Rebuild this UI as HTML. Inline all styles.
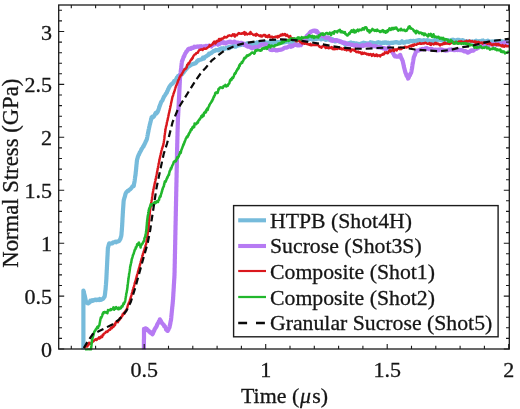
<!DOCTYPE html>
<html><head><meta charset="utf-8"><title>Normal Stress vs Time</title>
<style>
html,body{margin:0;padding:0;background:#fff;}
body{width:520px;height:409px;overflow:hidden;}
svg{display:block;}
text{font-family:"Liberation Serif","DejaVu Serif",serif;fill:#161616;stroke:#161616;stroke-width:0.3px;}
.tk{font-size:21.2px;}
.lg{font-size:21.75px;}
.lb{font-size:22.7px;}
</style></head><body>
<svg width="520" height="409" viewBox="0 0 520 409">
<rect x="0" y="0" width="520" height="409" fill="#ffffff"/>
<defs><clipPath id="cp"><rect x="58.7" y="2.0" width="451.2" height="348.4"/></clipPath></defs>

<g clip-path="url(#cp)" fill="none" stroke-linejoin="round" stroke-linecap="butt">
<polyline points="83.4,349.5 83.4,348.8 83.4,348.1 83.4,347.4 83.4,346.7 83.4,346.0 83.4,345.3 83.4,344.6 83.4,343.9 83.4,343.2 83.4,342.5 83.4,341.8 83.4,341.1 83.4,340.4 83.4,339.7 83.4,339.0 83.4,338.3 83.4,337.6 83.4,336.9 83.4,336.2 83.4,335.5 83.4,334.8 83.4,334.1 83.4,333.4 83.4,332.7 83.4,332.0 83.4,331.3 83.4,330.6 83.4,329.9 83.4,329.2 83.4,328.5 83.4,327.8 83.4,327.1 83.4,326.4 83.4,325.7 83.4,325.0 83.4,324.3 83.4,323.6 83.4,322.9 83.4,322.2 83.4,321.5 83.4,320.8 83.4,320.1 83.4,319.4 83.4,318.6 83.4,317.9 83.4,317.2 83.4,316.5 83.4,315.8 83.4,315.1 83.4,314.4 83.4,313.7 83.4,313.0 83.4,312.3 83.4,311.6 83.4,310.9 83.4,310.2 83.4,309.5 83.4,308.8 83.4,308.1 83.4,307.4 83.4,306.7 83.4,306.0 83.4,305.3 83.4,304.6 83.4,303.9 83.4,303.2 83.4,302.5 83.4,301.8 83.4,301.1 83.4,300.4 83.4,299.7 83.4,299.0 83.4,298.3 83.4,297.6 83.4,296.9 83.4,296.2 83.4,295.5 83.4,294.8 83.4,294.1 83.4,293.4 83.4,292.7 83.4,292.0 83.4,291.3 83.4,290.6 83.6,291.1 83.7,291.6 83.9,292.4 84.1,293.3 84.3,294.2 84.5,294.7 84.6,295.4 84.8,295.9 84.9,296.5 85.0,297.2 85.2,297.9 85.3,298.6 85.5,299.2 85.6,299.9 85.7,300.6 86.0,301.4 86.4,302.0 86.8,302.7 87.2,303.1 87.6,303.2 88.1,303.4 88.7,302.8 89.3,302.7 89.8,302.1 90.4,300.7 90.9,301.0 91.6,301.1 92.3,300.1 93.0,300.9 93.7,300.4 94.3,300.0 95.0,299.7 95.7,299.7 96.4,300.2 97.1,299.7 97.8,299.8 98.5,299.7 99.2,300.0 99.8,299.0 100.5,299.9 101.2,299.7 101.9,299.2 102.6,299.2 103.2,298.7 103.7,297.8 104.2,297.2 104.6,296.7 104.7,296.2 104.8,295.5 104.9,294.8 105.0,294.2 105.1,293.3 105.2,292.6 105.2,292.0 105.3,291.3 105.4,290.6 105.5,289.9 105.6,289.2 105.6,288.6 105.7,287.9 105.7,287.2 105.8,286.5 105.8,285.7 105.9,285.1 106.0,284.4 106.0,283.5 106.1,282.9 106.1,282.2 106.2,281.6 106.2,280.9 106.3,280.2 106.3,279.4 106.4,278.7 106.4,278.0 106.4,277.3 106.5,276.6 106.5,275.9 106.5,275.2 106.6,274.5 106.6,273.8 106.6,273.1 106.7,272.5 106.7,271.8 106.7,271.1 106.8,270.3 106.8,269.6 106.9,268.9 106.9,268.3 106.9,267.6 107.0,266.8 107.0,266.1 107.0,265.4 107.1,264.7 107.1,264.0 107.1,263.3 107.2,262.6 107.2,261.9 107.2,261.2 107.3,260.6 107.3,259.8 107.3,259.1 107.4,258.4 107.4,257.8 107.4,257.0 107.5,256.4 107.5,255.6 107.6,255.0 107.6,254.3 107.6,253.6 107.7,252.8 107.7,252.1 107.7,251.4 107.8,250.7 107.8,250.1 107.8,249.3 107.9,248.6 107.9,247.9 108.1,247.3 108.3,246.8 108.5,245.7 108.7,245.0 109.2,243.3 109.8,243.6 110.5,243.7 111.1,243.7 111.7,243.2 112.4,243.4 113.0,242.5 113.6,242.3 114.3,242.2 114.9,242.0 115.5,241.7 116.2,242.2 116.8,241.6 117.4,241.5 118.1,241.5 118.7,241.1 119.3,240.8 119.9,239.6 120.2,239.2 120.5,238.6 120.7,237.7 120.9,237.0 121.2,236.3 121.3,235.6 121.4,234.9 121.5,234.2 121.5,233.6 121.6,232.9 121.6,232.2 121.7,231.4 121.8,230.7 121.8,229.9 121.9,229.3 121.9,228.6 122.0,228.0 122.0,227.2 122.1,226.5 122.1,225.8 122.2,225.1 122.2,224.4 122.2,223.7 122.3,223.1 122.3,222.3 122.4,221.6 122.4,220.9 122.4,220.2 122.5,219.5 122.5,218.8 122.5,218.1 122.6,217.5 122.6,216.8 122.7,216.1 122.7,215.4 122.7,214.7 122.8,213.9 122.8,213.2 122.9,212.5 122.9,211.9 122.9,211.2 123.0,210.5 123.0,209.8 123.1,209.1 123.1,208.4 123.2,207.7 123.2,207.0 123.3,206.3 123.3,205.7 123.4,204.9 123.4,204.2 123.5,203.4 123.5,202.7 123.6,202.0 123.6,201.4 123.7,200.7 123.8,199.9 124.0,199.5 124.2,198.6 124.4,197.9 124.6,197.3 124.8,196.8 125.0,196.1 125.2,195.1 125.4,194.4 125.6,193.7 125.8,193.3 126.0,192.9 126.5,191.9 127.0,191.7 127.6,191.1 128.1,190.6 128.6,190.7 129.2,189.9 129.7,189.6 130.2,189.4 130.8,188.7 131.3,188.1 131.9,187.4 132.4,186.4 132.9,186.4 133.5,186.3 133.8,185.7 133.9,185.1 134.0,184.2 134.1,183.6 134.2,183.1 134.4,182.4 134.5,181.7 134.6,181.1 134.7,180.4 134.8,179.6 134.9,179.0 135.0,178.0 135.1,177.3 135.2,176.6 135.3,175.9 135.5,175.2 135.5,174.6 135.6,173.9 135.7,173.3 135.7,172.5 135.8,171.8 135.9,171.1 136.0,170.5 136.0,169.8 136.1,169.1 136.2,168.4 136.2,167.6 136.3,166.9 136.4,166.2 136.4,165.5 136.5,164.7 136.6,163.9 136.7,163.2 136.7,162.5 136.8,161.9 136.9,161.3 136.9,160.6 137.0,160.1 137.2,159.1 137.4,158.7 137.6,157.9 137.8,157.2 138.0,156.5 138.2,156.0 138.4,155.5 138.7,154.8 139.0,154.5 139.4,153.4 139.7,152.8 140.1,151.9 140.4,151.5 140.7,150.9 141.1,150.3 141.4,149.3 141.7,149.0 142.1,148.2 142.5,147.7 142.8,147.1 143.2,146.5 143.6,146.3 143.9,145.3 144.3,144.6 144.6,144.1 144.9,143.4 145.1,143.1 145.4,142.4 145.7,141.7 145.9,141.2 146.2,140.7 146.5,140.2 146.7,139.5 147.0,138.7 147.1,137.7 147.3,136.9 147.4,136.3 147.5,135.6 147.7,134.9 147.8,134.3 147.9,133.6 148.1,132.9 148.2,132.1 148.4,131.5 148.5,130.7 148.6,129.9 148.8,129.3 148.9,128.8 149.0,128.1 149.2,127.5 149.3,126.7 149.5,125.9 149.6,125.3 149.8,124.7 150.0,124.1 150.1,123.5 150.3,122.7 150.5,122.1 150.6,121.4 150.8,120.8 151.0,120.0 151.1,119.1 151.3,118.3 151.5,117.4 151.8,117.3 152.3,116.7 152.9,117.3 153.4,116.9 154.0,116.4 154.5,115.4 155.1,114.2 155.6,112.9 156.2,112.5 156.7,113.2 157.3,112.5 157.6,112.1 157.8,111.5 158.0,111.0 158.2,110.3 158.5,109.9 158.7,109.0 158.9,108.5 159.1,107.8 159.3,106.7 159.6,106.5 159.8,105.7 160.0,105.3 160.2,104.7 160.5,104.0 160.7,103.3 160.9,102.6 161.2,102.1 161.6,101.5 161.9,100.9 162.3,100.7 162.6,100.0 163.0,98.8 163.4,98.2 163.7,97.3 164.1,96.5 164.4,96.2 164.8,95.6 165.1,95.2 165.5,94.6 165.8,93.7 166.1,93.4 166.5,93.0 166.8,92.7 167.1,91.7 167.4,91.2 167.8,90.3 168.1,89.2 168.4,89.0 168.8,87.8 169.1,87.3 169.4,86.9 169.7,86.3 170.1,85.7 170.5,85.3 170.9,84.8 171.4,84.2 171.9,84.0 172.4,83.5 172.8,83.3 173.3,82.5 173.8,82.2 174.2,81.0 174.7,80.6 175.2,80.8 175.7,79.9 176.1,79.6 176.6,78.3 177.1,77.2 177.6,76.9 178.1,76.0 178.6,76.7 179.1,76.0 179.6,75.0 180.1,74.7 180.6,74.7 181.1,74.7 181.6,74.5 182.1,74.2 182.6,73.6 183.2,72.8 183.7,72.3 184.2,71.6 184.7,70.2 185.2,70.3 185.7,69.3 186.2,68.4 186.7,68.6 187.2,67.2 187.7,66.4 188.3,66.8 188.8,66.0 189.4,66.2 189.9,65.4 190.5,65.4 191.1,64.5 191.7,64.5 192.3,64.4 192.9,64.1 193.5,63.9 194.1,63.5 194.7,63.4 195.2,63.4 195.8,63.0 196.4,62.4 197.0,61.3 197.6,60.9 198.2,60.2 198.8,60.5 199.4,59.8 200.0,59.8 200.6,59.7 201.2,59.4 201.8,59.2 202.3,58.9 202.9,57.7 203.5,57.8 204.1,58.5 204.7,57.1 205.3,56.7 205.9,56.7 206.5,56.2 207.1,55.7 207.7,55.2 208.3,55.1 209.0,53.7 209.6,54.0 210.2,53.6 210.8,53.1 211.5,52.9 212.1,52.2 212.7,51.9 213.3,51.3 214.0,50.8 214.6,51.0 215.3,50.6 215.9,49.9 216.6,50.1 217.3,49.9 217.9,50.4 218.6,50.2 219.3,50.1 219.9,48.8 220.6,48.8 221.3,48.3 221.9,48.5 222.6,48.9 223.3,48.3 224.0,49.1 224.7,48.7 225.3,48.3 226.0,48.2 226.7,47.9 227.4,48.3 228.0,47.8 228.7,47.1 229.4,48.3 230.1,47.2 230.8,46.9 231.5,47.0 232.2,46.4 232.8,46.0 233.5,46.0 234.2,46.1 234.9,46.7 235.6,46.7 236.3,46.4 237.0,45.9 237.6,45.6 238.3,45.2 239.0,45.3 239.7,45.1 240.4,45.1 241.1,44.9 241.8,44.4 242.5,44.2 243.2,44.2 243.9,44.9 244.6,44.7 245.3,44.7 246.0,43.9 246.7,43.4 247.4,43.4 248.1,43.7 248.8,44.7 249.5,44.5 250.2,44.7 250.9,45.0 251.6,44.6 252.3,44.3 253.0,44.5 253.7,43.9 254.4,43.4 255.1,43.7 255.8,43.2 256.5,42.6 257.2,42.3 257.9,43.0 258.6,43.1 259.3,43.1 260.0,43.1 260.7,43.3 261.4,43.7 262.1,43.7 262.8,43.5 263.5,43.0 264.2,42.6 264.9,42.0 265.6,42.4 266.3,43.3 267.0,42.8 267.7,42.6 268.4,42.7 269.1,42.3 269.8,42.8 270.5,42.7 271.2,42.7 271.9,42.9 272.6,42.5 273.3,42.9 274.0,41.9 274.7,41.4 275.4,41.7 276.1,41.5 276.8,42.2 277.5,42.1 278.2,42.1 278.9,42.2 279.6,42.0 280.3,41.9 281.0,41.7 281.7,42.4 282.4,42.7 283.1,42.4 283.8,42.5 284.5,42.1 285.2,42.0 285.9,42.2 286.6,41.4 287.3,41.7 288.0,41.4 288.7,42.0 289.4,42.3 290.1,43.1 290.7,43.5 291.4,42.8 292.1,42.4 292.8,42.0 293.5,41.6 294.1,41.4 294.8,41.3 295.5,41.2 296.2,40.0 296.9,39.5 297.5,39.9 298.2,39.5 298.9,40.1 299.6,39.8 300.3,40.3 301.0,40.5 301.7,39.7 302.4,39.3 303.1,39.1 303.8,39.3 304.4,39.2 305.1,39.3 305.8,39.5 306.5,39.5 307.2,38.8 307.9,39.0 308.6,39.5 309.3,38.8 310.0,38.9 310.7,38.5 311.4,38.7 312.1,39.4 312.8,38.9 313.5,39.3 314.2,38.8 314.9,39.0 315.6,39.1 316.3,39.1 317.0,38.5 317.7,38.6 318.4,38.7 319.1,38.6 319.8,38.4 320.5,38.8 321.2,39.4 321.9,39.1 322.6,38.8 323.3,38.3 324.0,38.8 324.7,39.4 325.4,39.9 326.1,39.8 326.8,39.5 327.5,39.2 328.2,39.3 328.9,39.2 329.6,39.8 330.3,39.6 331.0,39.4 331.7,39.0 332.4,39.2 333.0,40.2 333.7,40.6 334.4,40.7 335.1,41.4 335.8,41.5 336.5,40.6 337.2,40.8 337.8,40.8 338.5,41.1 339.2,41.6 339.9,41.5 340.6,41.9 341.2,41.7 341.9,42.5 342.6,42.4 343.3,42.8 343.9,43.3 344.6,43.3 345.3,44.8 346.0,44.1 346.7,44.3 347.3,43.7 348.0,43.4 348.7,43.4 349.4,42.8 350.1,42.9 350.8,42.5 351.5,43.4 352.2,43.4 352.9,43.0 353.6,43.9 354.3,43.2 355.0,43.9 355.8,43.6 356.5,43.3 357.2,43.7 357.9,43.8 358.6,44.0 359.3,44.1 360.0,44.3 360.7,43.7 361.4,43.8 362.1,43.2 362.8,43.3 363.5,42.7 364.2,43.0 364.9,43.9 365.6,43.2 366.3,43.3 367.0,43.8 367.7,43.3 368.4,43.3 369.1,43.6 369.8,43.4 370.5,42.3 371.2,42.7 371.9,42.7 372.6,42.5 373.3,43.3 374.0,43.2 374.7,43.2 375.4,43.5 376.1,43.4 376.8,42.7 377.5,42.7 378.2,42.2 378.9,42.5 379.6,42.6 380.3,42.6 381.0,43.4 381.7,43.2 382.4,42.7 383.1,42.5 383.8,42.9 384.5,42.3 385.2,42.8 385.9,42.4 386.6,42.5 387.3,43.1 388.0,42.6 388.7,43.0 389.4,43.1 390.1,43.1 390.8,42.8 391.5,42.8 392.2,42.7 392.9,43.0 393.6,42.8 394.3,42.4 395.0,42.3 395.7,42.3 396.4,42.0 397.1,42.2 397.8,42.6 398.5,42.7 399.2,43.0 399.9,43.0 400.6,42.5 401.3,42.1 402.0,41.3 402.7,42.4 403.4,42.8 404.1,42.6 404.8,42.7 405.5,41.8 406.2,41.8 406.9,41.6 407.6,41.8 408.3,41.5 408.9,41.8 409.6,41.1 410.3,41.0 411.0,40.9 411.7,41.2 412.4,41.3 413.1,40.9 413.8,40.9 414.5,41.1 415.2,41.0 415.9,40.8 416.6,40.9 417.3,40.3 418.0,40.6 418.7,40.3 419.4,40.0 420.1,40.2 420.8,40.9 421.5,40.7 422.2,41.3 422.9,40.7 423.6,40.1 424.3,40.9 425.0,40.5 425.7,40.5 426.4,40.4 427.1,40.2 427.8,40.3 428.5,40.6 429.2,40.8 429.9,40.9 430.6,40.9 431.3,41.1 432.0,41.4 432.7,41.1 433.4,41.4 434.1,40.3 434.8,39.9 435.5,39.9 436.2,40.1 436.9,39.7 437.6,39.8 438.3,39.7 439.0,39.6 439.7,39.6 440.4,39.9 441.1,40.2 441.8,40.4 442.5,40.2 443.2,40.1 443.9,40.7 444.6,40.6 445.3,40.8 446.0,40.7 446.7,40.2 447.4,40.3 448.1,40.3 448.8,40.4 449.5,40.6 450.2,40.7 450.9,40.4 451.6,39.9 452.3,39.9 453.0,39.7 453.7,40.0 454.4,40.3 455.1,40.4 455.8,40.5 456.5,40.7 457.2,39.9 457.9,40.0 458.6,39.8 459.3,40.1 460.0,40.4 460.7,40.4 461.4,40.8 462.1,40.2 462.8,40.0 463.5,40.6 464.2,41.0 464.9,41.4 465.6,41.6 466.3,41.2 467.0,41.7 467.7,41.3 468.4,41.4 469.1,41.8 469.8,41.6 470.5,41.7 471.2,41.7 471.9,41.6 472.6,41.4 473.3,41.6 474.0,41.6 474.7,41.7 475.4,41.0 476.1,40.7 476.8,41.3 477.5,41.3 478.2,41.4 478.9,41.8 479.6,41.2 480.3,41.4 481.0,40.9 481.7,40.7 482.4,41.2 483.1,40.6 483.8,41.5 484.5,41.6 485.2,41.4 485.9,41.8 486.6,41.3 487.3,40.8 488.0,40.7 488.7,41.2 489.4,41.4 490.1,41.6 490.8,41.9 491.5,41.7 492.2,41.3 492.9,41.9 493.6,41.6 494.3,41.8 495.0,41.2 495.7,41.0 496.4,41.2 497.1,41.1 497.8,41.4 498.5,41.4 499.2,41.3 499.9,41.5 500.6,41.3 501.3,41.1 502.0,41.7 502.7,41.5 503.4,41.7 504.1,42.2 504.8,41.9 505.5,42.5 506.2,41.9 506.9,41.5 507.6,41.8 508.3,41.9 509.0,42.0" stroke="#76bbdb" stroke-width="4.2"/>
<polyline points="143.9,349.5 143.9,348.8 143.9,348.1 143.9,347.4 143.9,346.7 143.9,346.0 143.9,345.3 143.9,344.6 143.9,343.9 143.9,343.2 143.9,342.5 143.9,341.8 143.9,341.1 143.9,340.4 143.9,339.7 144.0,339.0 144.0,338.3 144.0,337.6 144.0,336.9 144.0,336.2 144.0,335.5 144.0,334.8 144.0,334.1 144.0,333.4 144.0,332.7 144.0,332.0 144.0,331.3 144.0,330.6 144.0,329.9 144.0,328.8 144.5,329.0 145.2,328.4 145.9,328.4 146.4,328.9 147.0,329.1 147.5,330.2 148.0,330.4 148.6,330.6 149.1,331.6 149.7,331.5 150.2,332.6 150.8,332.1 151.3,333.2 151.9,333.7 152.4,334.2 152.8,333.9 153.1,333.0 153.4,331.9 153.8,331.4 154.1,330.9 154.4,329.8 154.7,329.4 155.0,328.7 155.4,328.0 155.7,327.9 156.0,327.3 156.4,326.6 156.7,326.2 157.1,324.8 157.4,324.2 157.7,323.6 158.1,323.0 158.4,322.7 158.8,321.6 159.1,321.3 159.5,320.8 159.8,319.3 160.2,320.0 160.6,320.5 161.0,321.3 161.4,322.1 161.8,322.7 162.2,323.4 162.6,323.7 163.0,324.2 163.4,324.6 163.8,324.8 164.2,326.2 164.6,325.9 165.0,326.8 165.4,327.5 165.8,328.0 166.1,329.6 166.5,329.9 166.9,330.0 167.3,330.8 167.7,330.9 168.0,330.1 168.3,329.8 168.6,329.1 168.9,328.1 169.2,327.8 169.5,327.3 169.7,326.3 169.8,325.6 170.0,324.9 170.1,324.1 170.3,323.7 170.4,322.7 170.5,322.0 170.7,321.5 170.8,320.6 171.0,320.1 171.1,319.3 171.1,318.7 171.2,318.1 171.3,317.4 171.3,316.7 171.4,315.9 171.5,315.1 171.6,314.4 171.6,313.7 171.7,313.0 171.8,312.3 171.8,311.7 171.9,310.9 172.0,310.2 172.0,309.6 172.1,308.9 172.2,308.2 172.2,307.5 172.3,306.8 172.4,306.1 172.5,305.4 172.5,304.8 172.6,304.1 172.7,303.4 172.7,302.7 172.8,301.9 172.9,301.1 172.9,300.5 173.0,299.7 173.1,299.1 173.1,298.4 173.1,297.7 173.2,297.0 173.2,296.3 173.3,295.7 173.3,294.9 173.3,294.2 173.4,293.5 173.4,292.8 173.5,292.0 173.5,291.4 173.6,290.8 173.6,290.1 173.6,289.4 173.7,288.7 173.7,288.0 173.8,287.3 173.8,286.6 173.8,285.8 173.9,285.1 173.9,284.4 174.0,283.7 174.0,283.1 174.1,282.3 174.1,281.7 174.1,281.0 174.2,280.2 174.2,279.6 174.3,278.8 174.3,278.1 174.4,277.4 174.4,276.7 174.4,276.0 174.5,275.4 174.5,274.7 174.5,274.0 174.5,273.3 174.6,272.6 174.6,271.9 174.6,271.1 174.6,270.4 174.6,269.7 174.6,269.0 174.6,268.3 174.7,267.6 174.7,266.9 174.7,266.3 174.7,265.6 174.7,264.9 174.7,264.2 174.8,263.4 174.8,262.8 174.8,262.0 174.8,261.3 174.8,260.6 174.8,259.9 174.8,259.2 174.9,258.6 174.9,257.9 174.9,257.1 174.9,256.4 174.9,255.7 174.9,255.0 174.9,254.3 175.0,253.7 175.0,252.9 175.0,252.2 175.0,251.5 175.0,250.8 175.0,250.1 175.1,249.4 175.1,248.7 175.1,248.0 175.1,247.3 175.1,246.6 175.1,245.9 175.1,245.2 175.2,244.5 175.2,243.8 175.2,243.1 175.2,242.4 175.2,241.7 175.2,241.0 175.2,240.3 175.3,239.6 175.3,238.9 175.3,238.2 175.3,237.5 175.3,236.8 175.3,236.1 175.3,235.4 175.4,234.7 175.4,234.0 175.4,233.3 175.4,232.6 175.4,231.9 175.4,231.2 175.4,230.5 175.5,229.8 175.5,229.1 175.5,228.4 175.5,227.7 175.5,227.0 175.5,226.3 175.5,225.6 175.6,224.9 175.6,224.2 175.6,223.5 175.6,222.8 175.6,222.1 175.6,221.4 175.7,220.7 175.7,220.0 175.7,219.3 175.7,218.6 175.7,217.9 175.7,217.2 175.7,216.5 175.8,215.8 175.8,215.1 175.8,214.4 175.8,213.7 175.8,213.0 175.8,212.3 175.8,211.6 175.9,210.9 175.9,210.2 175.9,209.5 175.9,208.8 175.9,208.1 175.9,207.4 175.9,206.7 176.0,206.0 176.0,205.3 176.0,204.6 176.0,203.9 176.0,203.2 176.0,202.5 176.0,201.8 176.1,201.1 176.1,200.4 176.1,199.7 176.1,199.0 176.1,198.3 176.1,197.6 176.1,196.9 176.2,196.2 176.2,195.5 176.2,194.8 176.2,194.1 176.2,193.4 176.2,192.7 176.2,192.0 176.3,191.3 176.3,190.6 176.3,189.9 176.3,189.2 176.3,188.5 176.3,187.8 176.3,187.1 176.4,186.4 176.4,185.7 176.4,185.0 176.4,184.3 176.4,183.6 176.4,182.9 176.5,182.2 176.5,181.5 176.5,180.8 176.5,180.1 176.5,179.4 176.5,178.7 176.5,178.0 176.6,177.3 176.6,176.6 176.6,175.9 176.6,175.2 176.6,174.5 176.6,173.7 176.6,173.0 176.7,172.3 176.7,171.6 176.7,171.0 176.7,170.2 176.7,169.6 176.7,168.8 176.7,168.1 176.8,167.5 176.8,166.8 176.8,166.1 176.8,165.4 176.8,164.7 176.8,164.0 176.8,163.3 176.8,162.6 176.9,161.9 176.9,161.2 176.9,160.4 176.9,159.8 176.9,159.0 176.9,158.4 176.9,157.7 177.0,157.0 177.0,156.3 177.0,155.5 177.0,154.8 177.0,154.2 177.0,153.4 177.0,152.7 177.1,152.0 177.1,151.4 177.1,150.7 177.1,149.9 177.1,149.3 177.1,148.6 177.1,147.9 177.2,147.1 177.2,146.4 177.2,145.7 177.2,145.0 177.2,144.4 177.2,143.7 177.3,142.9 177.3,142.2 177.3,141.5 177.3,140.8 177.3,140.1 177.4,139.4 177.4,138.8 177.4,138.0 177.4,137.3 177.4,136.6 177.5,135.9 177.5,135.2 177.5,134.5 177.5,133.8 177.5,133.1 177.5,132.4 177.6,131.7 177.6,131.0 177.6,130.4 177.6,129.7 177.6,128.9 177.7,128.2 177.7,127.5 177.7,126.8 177.7,126.2 177.7,125.5 177.8,124.8 177.8,124.0 177.8,123.3 177.8,122.6 177.8,121.9 177.9,121.2 177.9,120.5 177.9,119.8 177.9,119.1 178.0,118.5 178.0,117.8 178.0,117.1 178.1,116.4 178.1,115.7 178.2,115.0 178.2,114.3 178.2,113.5 178.3,112.8 178.3,112.1 178.3,111.4 178.4,110.8 178.4,110.0 178.4,109.3 178.5,108.6 178.5,107.9 178.5,107.2 178.6,106.5 178.6,105.8 178.7,105.1 178.7,104.4 178.7,103.8 178.8,103.0 178.8,102.3 178.8,101.6 178.9,100.9 178.9,100.2 178.9,99.5 179.0,98.8 179.0,98.1 179.1,97.4 179.1,96.7 179.1,96.0 179.2,95.3 179.2,94.6 179.2,93.9 179.3,93.2 179.3,92.5 179.3,91.8 179.4,91.2 179.4,90.5 179.4,89.8 179.5,89.1 179.5,88.3 179.5,87.6 179.6,86.9 179.6,86.2 179.6,85.5 179.7,84.8 179.7,84.1 179.7,83.5 179.8,82.7 179.8,82.0 179.8,81.3 179.9,80.6 179.9,79.9 179.9,79.1 180.0,78.5 180.0,77.8 180.1,77.2 180.2,76.5 180.3,75.8 180.3,75.1 180.4,74.3 180.5,73.6 180.6,73.0 180.7,72.2 180.7,71.5 180.8,70.7 180.9,70.0 181.0,69.3 181.1,68.7 181.1,68.0 181.2,67.4 181.3,66.7 181.4,66.0 181.5,65.3 181.6,64.5 181.6,63.9 181.7,63.2 181.8,62.6 181.9,61.8 182.1,61.0 182.4,60.4 182.6,60.0 182.9,59.0 183.2,58.2 183.4,57.5 183.7,56.6 184.0,56.6 184.3,55.9 184.5,55.1 184.8,54.5 185.1,53.9 185.4,53.2 185.8,52.7 186.3,51.7 186.8,51.1 187.2,51.1 187.7,50.1 188.1,49.3 188.6,49.1 189.1,48.6 189.8,48.8 190.4,48.8 191.0,48.8 191.6,47.9 192.2,47.8 192.9,48.0 193.5,47.7 194.2,46.8 194.9,47.3 195.6,46.9 196.3,46.8 197.0,46.6 197.7,46.4 198.4,46.9 199.1,46.6 199.8,46.3 200.5,46.9 201.2,46.1 201.9,46.7 202.6,47.1 203.3,46.4 204.0,46.8 204.7,46.4 205.4,46.0 206.1,46.7 206.8,45.9 207.4,46.3 208.1,46.0 208.8,45.6 209.4,45.8 210.1,45.8 210.7,45.8 211.4,46.4 212.0,45.4 212.7,45.0 213.4,44.7 214.0,44.0 214.7,44.3 215.4,44.0 216.1,43.5 216.8,43.6 217.5,43.4 218.1,44.7 218.8,43.9 219.5,43.9 220.2,43.6 220.9,42.3 221.6,42.7 222.3,42.5 223.0,42.2 223.7,43.1 224.4,42.4 225.1,42.8 225.8,43.5 226.4,42.7 227.1,42.3 227.8,42.3 228.5,42.1 229.2,41.6 229.9,42.3 230.6,41.7 231.3,42.5 232.0,42.5 232.7,42.0 233.4,42.2 234.1,41.5 234.8,41.7 235.5,42.1 236.2,42.4 236.9,42.6 237.6,42.5 238.3,42.5 239.0,43.2 239.7,43.4 240.4,43.1 241.1,42.8 241.7,42.9 242.4,43.4 243.0,43.8 243.7,43.7 244.3,44.5 244.9,45.2 245.6,45.1 246.2,45.8 246.9,45.7 247.5,46.5 248.1,46.7 248.8,46.7 249.4,46.7 250.1,47.1 250.7,47.5 251.3,47.8 252.0,48.3 252.7,48.0 253.4,47.5 254.1,47.4 254.8,47.3 255.5,47.0 256.2,47.1 256.9,47.4 257.5,47.2 258.2,46.8 258.9,46.4 259.5,46.0 260.2,45.3 260.9,44.9 261.6,44.8 262.2,44.4 262.9,44.4 263.6,44.7 264.3,44.8 265.0,44.2 265.7,44.0 266.4,44.5 267.0,45.2 267.5,46.3 267.9,46.9 268.4,46.9 268.8,47.2 269.3,48.1 269.7,48.9 270.2,49.9 270.7,49.9 271.4,50.0 272.1,50.1 272.8,49.8 273.5,49.9 274.2,49.8 274.9,49.8 275.6,50.2 276.2,50.5 276.9,50.4 277.6,50.3 278.3,50.0 278.9,49.9 279.6,49.8 280.3,49.8 281.0,49.6 281.7,49.6 282.3,49.2 283.0,48.9 283.7,48.3 284.4,47.9 285.1,47.6 285.8,47.5 286.5,47.7 287.1,47.3 287.8,47.2 288.4,46.5 289.1,46.4 289.8,45.9 290.4,45.7 291.1,46.8 291.7,46.3 292.4,46.1 293.0,46.1 293.6,45.3 294.3,45.1 294.9,44.5 295.6,44.7 296.3,44.9 297.0,45.4 297.7,45.3 298.4,45.0 299.1,45.3 299.8,45.2 300.3,45.2 300.8,45.2 301.3,44.5 301.7,43.7 302.2,43.2 302.7,42.5 303.2,42.3 303.6,41.3 303.9,40.9 304.3,39.9 304.6,39.5 305.0,39.2 305.3,39.1 305.7,38.4 306.0,37.7 306.4,37.0 306.7,35.9 307.2,35.7 307.7,35.2 308.2,34.5 308.7,34.2 309.2,33.6 309.7,32.6 310.2,32.4 310.8,31.6 311.4,31.6 312.1,31.3 312.7,30.9 313.3,30.8 314.0,30.7 314.7,30.5 315.3,30.7 316.0,31.7 316.7,31.0 317.3,31.9 317.8,32.5 318.3,33.1 318.8,34.2 319.3,33.7 319.8,34.6 320.3,35.2 320.8,34.9 321.5,35.7 322.1,36.0 322.7,35.5 323.3,35.4 324.0,36.1 324.6,36.7 325.2,37.6 325.8,37.6 326.5,37.8 327.2,37.7 327.8,37.7 328.5,37.7 329.1,38.0 329.8,38.5 330.4,39.7 331.1,40.6 331.8,40.8 332.4,40.9 333.1,40.7 333.8,40.2 334.5,40.1 335.2,40.2 335.9,40.0 336.6,40.1 337.2,40.8 337.9,40.8 338.6,40.9 339.3,40.8 340.0,41.5 340.7,41.7 341.3,42.0 342.0,42.1 342.7,42.5 343.3,42.9 344.0,42.7 344.7,42.5 345.3,43.1 346.0,43.0 346.7,43.7 347.3,44.1 348.0,44.4 348.7,44.3 349.4,44.2 350.1,44.5 350.8,44.5 351.5,44.9 352.1,44.6 352.8,45.1 353.5,45.3 354.2,45.4 354.9,45.9 355.6,45.5 356.3,45.0 357.0,45.2 357.7,45.7 358.3,46.1 359.0,46.5 359.7,47.1 360.4,45.9 361.1,45.6 361.8,45.5 362.5,45.1 363.2,46.1 363.9,45.5 364.6,45.4 365.2,45.2 365.9,44.9 366.6,44.9 367.3,44.4 368.0,45.2 368.7,44.4 369.4,44.5 370.1,44.5 370.7,45.6 371.4,46.0 372.0,46.2 372.7,46.4 373.3,46.1 374.0,45.9 374.6,46.0 375.3,46.3 375.9,46.3 376.6,46.6 377.2,46.9 377.9,47.2 378.6,47.3 379.3,47.2 380.0,47.5 380.7,47.1 381.4,47.9 382.1,48.1 382.8,48.3 383.5,48.2 384.2,48.0 384.9,48.9 385.6,48.7 386.3,48.9 387.0,48.6 387.7,48.4 388.4,47.8 389.1,47.3 389.8,48.1 390.3,48.8 390.7,49.9 391.1,50.9 391.5,50.7 391.9,51.8 392.3,51.8 392.7,52.4 393.1,53.5 393.5,53.6 394.0,55.1 394.4,55.6 394.9,56.4 395.4,55.8 395.9,56.2 396.4,56.3 396.8,56.7 397.4,56.6 398.0,56.7 398.5,56.5 399.1,56.1 399.7,55.2 400.2,54.9 400.5,55.8 400.8,57.0 401.2,57.6 401.5,58.6 401.9,59.1 402.2,60.0 402.5,60.4 402.7,60.9 402.8,61.7 403.0,62.3 403.1,63.1 403.3,63.6 403.4,64.3 403.6,64.9 403.7,65.7 403.9,66.4 404.0,67.2 404.2,67.7 404.3,68.3 404.5,68.9 404.7,69.6 404.8,70.3 405.0,71.1 405.2,71.5 405.4,72.6 405.7,73.1 406.0,73.8 406.2,74.5 406.5,75.4 406.7,75.9 407.0,76.1 407.3,76.7 407.5,77.0 407.8,77.6 408.1,78.6 408.4,78.1 408.7,77.7 409.0,77.0 409.3,76.0 409.7,75.6 410.0,75.1 410.3,74.3 410.6,73.4 411.0,73.0 411.3,72.1 411.4,71.6 411.5,71.0 411.6,70.3 411.7,69.7 411.8,69.2 412.0,68.4 412.1,67.7 412.2,66.9 412.3,66.1 412.4,65.5 412.5,64.8 412.6,64.0 412.8,63.3 412.9,62.7 413.0,62.1 413.1,61.3 413.2,60.8 413.3,60.1 413.5,59.3 413.6,58.5 413.7,57.9 413.9,57.0 414.1,56.4 414.4,56.1 414.6,55.2 414.9,54.9 415.2,53.8 415.4,53.3 415.7,52.6 415.9,51.8 416.2,51.4 416.8,50.7 417.4,50.5 418.1,50.5 418.7,50.6 419.4,50.1 420.0,49.6 420.7,49.5 421.3,49.5 422.0,49.1 422.6,48.9 423.3,49.4 424.0,48.9 424.7,48.7 425.4,48.3 426.1,48.9 426.8,48.1 427.5,48.5 428.2,48.9 428.9,49.2 429.6,49.1 430.3,49.2 431.0,48.7 431.7,49.3 432.4,49.2 433.1,49.9 433.8,49.8 434.5,49.9 435.2,50.0 435.9,49.6 436.6,50.0 437.3,50.3 438.0,49.7 438.7,50.2 439.4,49.7 440.1,49.3 440.8,49.6 441.5,49.8 442.2,49.7 442.9,50.0 443.6,50.1 444.3,50.4 445.0,50.3 445.7,50.6 446.4,50.3 447.1,50.5 447.8,50.2 448.5,49.8 449.2,49.7 449.9,49.5 450.6,49.6 451.3,49.4 452.0,49.5 452.7,50.0 453.4,49.7 454.1,50.1 454.8,50.1 455.5,49.7 456.2,50.0 456.9,49.9 457.6,50.1 458.3,50.0 459.0,50.0 459.7,49.9 460.4,50.2 461.1,50.0 461.8,50.2 462.4,50.6 463.1,50.6 463.8,51.2 464.5,51.4 465.2,51.0 465.8,51.2 466.5,51.7 467.2,52.2 467.9,52.7 468.5,52.4 469.2,52.0 469.9,51.5 470.5,50.9 471.2,50.3 471.9,50.8 472.5,50.6 473.2,50.7 473.8,50.3 474.5,49.3 475.1,49.0 475.7,49.1 476.3,48.7 476.9,48.6 477.5,48.1 478.1,47.2 478.7,47.5 479.3,46.7 479.9,46.7 480.5,46.9 481.2,46.2 481.9,46.0 482.6,46.0 483.3,45.6 484.0,45.5 484.7,45.4 485.4,45.5 486.0,45.3 486.7,44.8 487.4,44.9 488.1,44.9 488.8,45.0 489.5,44.4 490.2,44.5 490.9,44.1 491.6,44.2 492.3,44.4 493.0,44.8 493.7,44.6 494.4,44.2 495.1,44.3 495.8,44.3 496.5,44.6 497.2,44.8 497.9,44.6 498.6,44.0 499.3,43.7 500.0,43.4 500.7,44.0 501.4,44.1 502.1,43.6 502.8,43.6 503.4,43.1 504.1,43.3 504.8,42.4 505.5,43.4 506.2,42.8 506.9,42.8 507.6,42.7 508.3,42.6 509.0,42.5" stroke="#b67af3" stroke-width="4.2"/>
<polyline points="84.0,348.0 84.6,347.6 85.1,347.2 85.7,346.8 86.3,345.6 86.8,344.7 87.4,346.4 88.0,344.2 88.5,345.0 89.1,342.6 89.7,343.7 90.3,343.9 90.8,343.6 91.4,343.2 92.0,342.2 92.5,341.5 93.1,341.6 93.7,341.1 94.3,340.3 94.9,340.0 95.5,339.2 96.1,340.0 96.7,340.0 97.3,338.6 97.9,338.6 98.5,338.6 99.1,337.3 99.7,338.4 100.3,337.9 100.9,336.5 101.5,337.2 102.1,337.1 102.6,335.0 103.2,335.3 103.7,333.8 104.3,333.4 104.8,333.4 105.4,332.6 105.9,332.0 106.5,331.5 107.0,332.1 107.6,331.7 108.1,330.7 108.7,330.3 109.2,329.8 109.8,330.0 110.3,329.4 110.8,327.9 111.3,327.7 111.8,328.3 112.2,327.0 112.7,327.1 113.2,327.0 113.6,326.0 114.1,326.2 114.6,324.0 115.1,325.0 115.5,323.1 116.0,322.0 116.5,322.3 116.9,321.2 117.4,322.0 117.9,322.2 118.4,320.7 118.8,320.1 119.3,320.3 119.7,318.5 120.1,318.4 120.5,318.3 121.0,318.1 121.4,316.8 121.8,316.5 122.2,316.4 122.6,314.3 123.0,314.8 123.4,313.5 123.8,312.8 124.3,313.8 124.7,312.5 125.1,312.2 125.5,310.8 125.9,310.9 126.3,309.6 126.6,309.2 126.8,308.7 127.1,308.1 127.3,307.8 127.5,306.4 127.8,305.7 128.0,304.8 128.3,304.3 128.5,303.4 128.8,303.6 129.0,302.5 129.3,302.0 129.5,301.4 129.7,300.9 129.9,300.2 130.1,299.5 130.3,298.9 130.5,298.2 130.7,297.7 130.9,296.8 131.1,296.4 131.3,295.9 131.5,295.0 131.7,293.7 131.9,293.7 132.1,293.2 132.3,291.9 132.5,291.3 132.7,290.1 132.9,290.2 133.1,289.1 133.3,289.1 133.5,287.5 133.7,287.4 133.9,286.9 134.1,286.0 134.3,285.1 134.4,284.7 134.6,283.8 134.8,283.0 135.0,282.5 135.2,281.7 135.4,281.1 135.6,280.8 135.8,279.8 136.0,279.2 136.2,278.3 136.3,278.1 136.5,277.0 136.7,276.9 136.9,275.3 137.1,275.0 137.3,274.1 137.5,274.1 137.7,273.2 137.9,272.1 138.0,271.5 138.2,271.2 138.4,270.3 138.6,269.9 138.8,268.8 139.0,268.2 139.2,268.0 139.4,267.6 139.5,266.4 139.7,265.9 139.9,264.8 140.1,264.7 140.3,263.5 140.5,262.8 140.7,261.9 140.8,261.5 141.0,261.0 141.2,260.6 141.4,259.3 141.6,259.2 141.8,258.2 142.0,257.5 142.2,256.7 142.3,255.7 142.5,255.4 142.7,255.3 142.9,253.9 143.2,253.6 143.4,253.0 143.6,251.6 143.8,251.7 144.0,250.7 144.2,250.2 144.4,249.7 144.6,248.7 144.8,247.9 145.0,247.4 145.2,246.8 145.4,245.8 145.6,245.5 145.8,244.7 146.0,244.7 146.2,243.4 146.3,242.9 146.4,242.2 146.5,241.4 146.6,240.5 146.7,239.8 146.9,239.2 147.0,238.7 147.1,238.0 147.2,237.2 147.3,236.8 147.4,235.7 147.5,235.1 147.6,234.4 147.7,233.9 147.8,233.2 147.9,232.4 148.0,231.9 148.1,231.1 148.2,230.3 148.3,229.4 148.3,229.0 148.4,228.2 148.5,227.5 148.5,226.9 148.6,226.1 148.7,225.4 148.7,224.8 148.8,224.0 148.9,223.4 148.9,222.6 149.0,222.0 149.1,221.2 149.1,220.5 149.2,219.9 149.2,219.1 149.3,218.4 149.4,217.8 149.4,217.0 149.5,216.4 149.6,215.6 149.6,214.9 149.7,214.2 149.8,213.8 149.8,212.8 149.9,212.0 150.0,211.4 150.0,210.6 150.1,210.2 150.2,209.5 150.3,208.8 150.4,207.9 150.5,207.4 150.6,206.8 150.8,206.2 150.9,205.7 151.0,204.7 151.1,203.5 151.2,203.1 151.3,202.4 151.4,202.0 151.5,201.2 151.6,200.6 151.8,199.8 151.9,199.2 152.0,198.7 152.1,197.7 152.2,196.8 152.3,196.3 152.4,195.7 152.5,194.8 152.6,194.1 152.7,193.2 152.9,192.8 153.0,192.0 153.1,191.3 153.2,190.7 153.3,190.0 153.5,189.4 153.6,188.9 153.8,188.2 153.9,187.0 154.1,186.4 154.2,186.0 154.4,185.3 154.5,184.3 154.7,183.8 154.8,183.0 155.0,182.4 155.1,181.6 155.3,181.1 155.4,180.7 155.6,179.9 155.7,179.3 155.8,178.5 156.0,177.5 156.1,176.8 156.2,176.3 156.4,175.5 156.5,175.0 156.6,174.3 156.8,173.5 156.9,173.0 157.1,172.1 157.2,171.6 157.3,170.9 157.5,170.3 157.6,169.3 157.7,168.9 157.9,168.0 158.0,167.5 158.1,166.7 158.3,165.7 158.4,165.1 158.6,164.4 158.7,163.8 158.8,163.1 159.0,162.6 159.1,161.8 159.2,161.0 159.4,160.4 159.5,159.8 159.6,158.9 159.8,158.6 159.9,157.5 160.1,157.0 160.2,156.3 160.4,155.4 160.5,155.0 160.7,154.1 160.8,153.6 161.0,153.0 161.2,152.5 161.3,151.5 161.5,150.4 161.7,149.9 161.8,149.6 162.0,148.7 162.2,148.5 162.4,147.4 162.7,146.8 162.9,146.1 163.1,145.4 163.3,145.0 163.5,143.8 163.6,143.4 163.7,142.7 163.8,142.2 163.9,141.4 164.0,140.7 164.1,140.2 164.2,139.2 164.3,138.7 164.4,138.1 164.5,137.2 164.5,136.6 164.6,135.4 164.7,135.0 164.8,134.3 164.9,133.6 165.0,132.9 165.1,132.4 165.2,131.6 165.3,131.1 165.4,130.1 165.5,129.6 165.6,128.7 165.8,127.7 165.9,127.0 166.1,126.5 166.2,125.9 166.4,125.5 166.5,125.1 166.7,124.3 166.8,123.1 167.0,122.1 167.1,121.8 167.3,120.9 167.4,120.5 167.6,119.9 167.7,119.8 167.8,118.3 168.0,118.0 168.1,117.5 168.3,116.5 168.4,115.7 168.6,115.5 168.7,114.1 168.9,113.6 169.0,113.0 169.2,112.6 169.3,111.9 169.5,111.0 169.6,110.7 169.8,109.6 169.9,109.0 170.1,108.2 170.2,107.8 170.4,106.8 170.5,106.0 170.7,105.6 170.8,105.0 170.9,104.2 171.1,103.1 171.2,102.5 171.4,102.0 171.5,101.3 171.7,100.6 171.8,100.0 172.0,99.4 172.1,98.3 172.3,97.9 172.4,97.1 172.6,96.4 172.8,96.1 173.0,95.8 173.2,95.0 173.4,93.9 173.7,93.4 173.9,92.7 174.1,92.2 174.3,91.3 174.5,91.0 174.8,90.2 175.0,89.2 175.2,88.6 175.4,87.8 175.6,87.5 175.9,86.4 176.1,85.7 176.3,85.2 176.5,85.1 176.7,84.7 177.0,83.6 177.2,83.5 177.5,82.4 177.8,81.9 178.1,80.6 178.4,79.8 178.7,79.8 179.1,79.3 179.4,77.6 179.7,77.3 180.0,76.6 180.3,76.3 180.6,75.2 181.0,75.0 181.3,75.0 181.6,74.9 181.9,73.7 182.3,73.3 182.7,72.4 183.2,71.8 183.6,70.7 184.0,70.1 184.4,69.3 184.8,69.3 185.2,69.3 185.6,68.8 186.0,68.5 186.5,67.4 186.8,67.3 187.2,64.6 187.6,64.9 188.0,64.5 188.4,63.2 188.8,63.9 189.1,63.2 189.5,62.2 189.9,61.9 190.3,60.8 190.7,60.3 191.1,59.9 191.5,59.0 191.9,59.4 192.3,57.9 192.7,58.1 193.1,56.6 193.4,56.3 193.8,55.4 194.2,55.1 194.6,54.6 195.1,54.4 195.7,54.2 196.2,53.1 196.7,53.0 197.3,52.9 197.8,52.8 198.3,51.5 198.9,50.6 199.4,50.0 199.9,49.7 200.6,49.8 201.3,49.3 201.9,49.5 202.6,50.0 203.3,49.0 203.9,48.4 204.6,48.7 205.3,48.6 205.9,48.7 206.6,48.6 207.2,47.8 207.8,47.3 208.4,47.1 209.0,46.7 209.6,45.1 210.2,45.9 210.7,45.8 211.3,45.1 211.9,44.8 212.5,44.5 213.1,42.8 213.7,43.0 214.3,41.5 214.9,42.6 215.4,43.6 216.0,42.7 216.6,41.0 217.2,41.6 217.8,41.4 218.4,40.4 219.0,38.9 219.6,40.7 220.1,39.1 220.7,38.9 221.4,39.7 222.0,38.5 222.7,38.6 223.3,38.5 224.0,37.2 224.7,36.7 225.3,37.5 226.0,37.2 226.6,37.5 227.3,36.8 228.0,35.7 228.7,35.7 229.4,35.3 230.0,35.5 230.7,35.6 231.4,36.0 232.1,35.5 232.8,34.3 233.5,35.4 234.2,34.3 234.9,36.6 235.5,34.8 236.2,35.0 236.9,35.3 237.5,34.3 238.2,33.6 238.9,33.1 239.5,33.7 240.2,33.5 240.9,33.8 241.5,33.8 242.2,33.1 242.9,33.5 243.6,33.7 244.3,32.1 245.0,34.7 245.7,32.7 246.4,33.7 247.1,34.5 247.8,34.0 248.4,33.7 249.1,33.8 249.8,34.0 250.5,31.9 251.1,33.6 251.8,33.7 252.5,34.0 253.1,34.7 253.8,35.1 254.5,35.0 255.2,34.3 255.9,35.7 256.6,33.8 257.3,34.7 258.0,34.9 258.7,35.5 259.4,35.5 260.1,36.3 260.8,35.3 261.5,36.5 262.2,36.5 262.9,35.6 263.6,35.0 264.3,35.2 265.0,35.0 265.7,36.9 266.4,36.9 267.1,35.7 267.8,37.2 268.5,36.0 269.1,35.0 269.8,36.9 270.5,37.3 271.2,36.8 271.9,36.5 272.6,37.8 273.3,37.1 274.0,37.2 274.6,37.0 275.3,36.9 276.0,36.5 276.7,36.7 277.4,37.6 278.0,35.9 278.7,37.1 279.4,36.0 280.0,35.9 280.6,34.8 281.2,34.9 281.9,35.4 282.5,34.0 283.2,34.8 283.9,35.0 284.6,34.0 285.3,34.2 286.0,35.9 286.6,35.4 287.2,34.8 287.8,36.1 288.4,36.3 289.0,37.5 289.6,37.5 290.2,35.9 290.7,37.4 291.4,38.6 292.0,39.1 292.6,38.2 293.3,38.4 293.9,39.6 294.5,39.6 295.1,40.3 295.8,40.1 296.4,41.4 297.1,41.4 297.7,41.3 298.4,40.4 299.0,40.4 299.7,41.0 300.3,42.3 301.0,41.3 301.7,42.6 302.3,43.5 303.0,42.4 303.6,42.9 304.3,43.8 305.0,43.7 305.7,42.9 306.4,43.6 307.0,44.1 307.7,44.0 308.4,44.6 309.1,44.3 309.8,45.0 310.5,43.8 311.2,45.4 311.8,45.3 312.5,44.7 313.2,44.7 313.9,45.1 314.6,45.0 315.3,44.9 316.0,45.1 316.7,45.0 317.4,44.9 318.1,45.3 318.8,45.7 319.5,46.7 320.2,47.1 320.8,46.7 321.5,47.7 322.2,46.4 322.9,46.3 323.6,46.3 324.3,46.3 325.0,46.9 325.7,48.0 326.4,46.8 327.1,47.9 327.8,47.8 328.5,48.3 329.2,47.2 329.9,48.0 330.6,47.4 331.2,48.0 331.9,47.1 332.6,49.0 333.3,49.2 334.0,48.0 334.7,49.3 335.4,47.9 336.1,48.9 336.8,48.5 337.5,48.9 338.2,48.2 338.9,47.5 339.6,48.8 340.3,48.9 341.0,48.1 341.7,49.3 342.4,49.4 343.1,48.8 343.8,48.3 344.5,49.7 345.2,49.0 345.9,49.8 346.6,50.4 347.3,49.5 348.0,48.9 348.7,50.0 349.3,49.0 350.0,49.4 350.7,51.5 351.4,49.5 352.1,50.2 352.8,49.5 353.5,50.1 354.2,50.7 354.8,49.4 355.5,51.1 356.2,52.0 356.9,52.2 357.5,52.1 358.2,51.5 358.9,52.5 359.6,52.3 360.2,52.2 360.9,52.8 361.6,54.1 362.3,52.5 363.0,53.9 363.6,53.7 364.3,52.7 365.0,53.2 365.7,53.9 366.4,53.6 367.1,54.6 367.7,54.0 368.4,53.9 369.1,55.0 369.8,54.5 370.5,54.0 371.2,54.5 371.9,56.0 372.6,54.5 373.3,54.1 374.0,55.4 374.6,56.0 375.3,55.9 376.0,54.7 376.7,54.5 377.4,56.2 378.1,55.3 378.8,55.5 379.5,55.3 380.2,56.4 380.9,55.1 381.6,54.8 382.3,54.9 383.0,53.7 383.6,54.4 384.2,54.1 384.9,52.3 385.5,52.9 386.1,52.8 386.7,52.2 387.4,53.3 388.0,53.1 388.6,51.9 389.3,50.7 389.9,50.1 390.6,51.4 391.2,50.9 391.9,50.6 392.6,49.6 393.3,48.9 394.0,51.1 394.6,49.7 395.3,50.0 396.0,49.3 396.7,50.5 397.4,49.2 398.0,48.8 398.7,48.8 399.4,48.7 400.1,49.3 400.8,47.7 401.4,49.1 402.1,48.2 402.8,48.0 403.5,47.7 404.2,47.8 404.8,46.6 405.5,46.8 406.2,47.6 406.9,47.0 407.6,46.9 408.2,47.3 408.9,46.5 409.6,46.0 410.3,46.2 411.0,45.5 411.6,46.5 412.3,45.1 413.0,44.7 413.7,45.8 414.4,44.3 415.0,44.5 415.7,44.7 416.4,44.8 417.1,44.1 417.8,43.6 418.4,43.6 419.1,43.8 419.8,43.0 420.5,43.8 421.2,43.9 421.9,43.4 422.6,43.5 423.3,43.2 424.0,43.6 424.7,43.0 425.4,42.7 426.1,43.1 426.8,43.6 427.5,43.8 428.2,43.8 428.9,43.9 429.6,43.0 430.3,44.9 431.0,44.9 431.7,43.5 432.4,43.9 433.1,43.9 433.8,44.5 434.5,43.5 435.2,42.8 435.9,44.0 436.6,42.9 437.3,44.1 438.0,43.9 438.7,43.7 439.4,45.0 440.1,45.4 440.8,44.3 441.5,44.3 442.2,44.6 442.9,44.0 443.6,43.0 444.3,43.9 445.0,42.5 445.7,43.7 446.3,43.4 447.0,43.7 447.7,42.9 448.4,43.4 449.1,43.9 449.8,44.0 450.5,43.2 451.2,43.0 451.9,42.1 452.6,42.9 453.3,43.1 454.0,42.5 454.7,43.2 455.4,42.1 456.1,43.3 456.8,42.2 457.5,42.2 458.2,42.5 458.9,41.4 459.6,41.7 460.3,42.2 461.0,41.3 461.7,42.0 462.4,41.7 463.1,42.4 463.8,42.9 464.5,41.5 465.2,41.6 465.9,41.3 466.6,40.8 467.3,41.6 468.0,41.3 468.7,41.3 469.4,40.4 470.1,41.0 470.7,41.6 471.4,41.6 472.1,41.1 472.8,41.6 473.5,41.9 474.2,41.8 474.9,41.3 475.6,43.4 476.3,41.7 477.0,42.1 477.7,42.9 478.4,41.7 479.1,42.1 479.8,42.8 480.5,42.6 481.2,43.0 481.9,42.6 482.6,43.5 483.3,43.0 484.0,42.3 484.7,42.4 485.4,42.7 486.1,43.1 486.8,43.0 487.4,43.8 488.1,43.2 488.8,43.3 489.5,43.9 490.2,43.1 490.9,44.4 491.6,44.7 492.3,45.3 493.0,44.1 493.7,44.3 494.4,44.6 495.1,44.2 495.8,43.8 496.5,45.1 497.2,44.1 497.9,44.6 498.6,43.9 499.3,45.4 500.0,45.4 500.7,45.3 501.4,46.1 502.1,46.4 502.7,45.1 503.4,46.3 504.1,46.8 504.8,46.1 505.5,45.3 506.2,46.3 506.9,46.4 507.6,46.1 508.3,46.2 509.0,46.2" stroke="#da181d" stroke-width="2.4"/>
<polyline points="85.0,349.7 85.7,349.7 86.4,349.7 87.1,349.7 87.8,349.6 88.5,349.6 89.2,349.7 89.9,349.3 90.6,350.1 91.0,349.6 91.1,348.7 91.2,348.0 91.2,347.3 91.3,346.6 91.4,346.0 91.5,345.1 91.5,344.5 91.6,343.9 91.7,343.3 91.8,342.5 91.8,341.8 91.9,341.1 92.0,340.2 92.1,340.2 92.3,338.9 92.5,338.3 92.7,337.7 92.9,337.0 93.1,336.2 93.3,335.4 93.5,335.1 93.7,334.0 93.9,333.2 94.1,332.8 94.2,331.9 94.4,331.6 94.7,331.2 95.1,330.4 95.5,330.5 95.9,329.2 96.3,328.8 96.8,327.9 97.4,326.7 98.0,328.2 98.6,326.0 99.0,325.7 99.2,325.8 99.3,325.2 99.5,324.7 99.6,323.9 99.7,323.1 99.9,322.4 100.0,321.8 100.2,320.5 100.3,320.4 100.4,319.2 100.6,319.1 100.7,318.1 100.9,317.3 101.3,317.9 101.6,317.0 101.9,316.3 102.2,315.8 102.5,314.3 102.9,313.3 103.2,313.7 103.5,312.2 104.1,312.4 104.8,311.9 105.4,312.5 106.1,312.2 106.7,312.8 107.4,313.3 108.0,310.0 108.7,310.4 109.4,310.1 110.0,310.3 110.7,309.1 111.4,309.8 112.1,309.0 112.7,309.1 113.4,307.4 114.1,309.7 114.8,307.9 115.5,308.8 116.2,307.1 116.9,307.8 117.6,308.7 118.3,309.3 119.0,307.6 119.7,308.9 120.4,307.7 121.0,308.1 121.4,306.7 121.7,306.2 122.1,306.1 122.5,306.4 122.8,305.4 123.2,304.2 123.5,303.2 123.9,304.1 124.3,303.0 124.6,302.0 125.0,301.8 125.1,300.9 125.2,300.5 125.4,299.5 125.5,298.6 125.6,298.0 125.7,297.2 125.8,297.1 126.0,295.9 126.1,295.4 126.2,294.2 126.3,293.6 126.5,292.9 126.6,292.6 126.7,292.4 126.8,291.6 126.9,290.6 127.1,290.2 127.2,289.1 127.3,288.3 127.4,287.9 127.5,286.9 127.5,286.6 127.6,286.0 127.7,284.9 127.8,284.1 127.9,283.5 128.0,282.8 128.1,282.0 128.2,281.4 128.2,280.5 128.3,280.2 128.4,279.5 128.5,278.8 128.6,277.8 128.7,277.3 128.8,276.9 128.9,275.7 129.0,275.2 129.1,274.0 129.2,273.6 129.3,273.0 129.4,272.5 129.5,271.6 129.6,271.2 129.7,270.7 129.8,269.8 129.9,269.1 130.0,268.4 130.1,267.4 130.2,266.7 130.4,265.9 130.5,265.7 130.7,264.9 130.8,264.1 131.0,263.3 131.1,262.7 131.3,262.5 131.4,261.2 131.6,260.3 131.7,259.5 131.9,258.7 132.1,258.6 132.3,257.7 132.5,256.9 132.7,256.3 132.9,255.2 133.1,254.9 133.3,254.6 133.4,254.2 133.6,253.9 133.8,253.4 134.0,252.2 134.2,251.8 134.5,251.0 134.8,249.7 135.2,249.3 135.5,249.1 135.8,247.2 136.1,247.7 136.4,247.0 136.8,246.0 137.1,244.2 137.6,245.1 138.1,244.3 138.6,242.8 139.0,242.5 139.4,244.9 139.8,245.1 140.2,245.2 140.6,247.6 141.0,245.1 141.4,245.3 141.8,244.0 142.2,243.9 142.6,243.6 143.0,242.4 143.3,242.1 143.5,241.5 143.7,241.6 143.9,240.7 144.2,239.8 144.4,238.4 144.6,237.9 144.8,237.4 145.0,237.5 145.2,237.0 145.4,235.6 145.5,235.1 145.6,234.2 145.8,233.3 145.9,232.7 146.0,232.0 146.1,231.4 146.3,231.2 146.3,229.9 146.4,229.3 146.5,228.7 146.5,227.8 146.6,227.2 146.6,226.4 146.7,225.8 146.8,225.3 146.8,224.6 146.9,223.8 146.9,223.0 147.0,222.2 147.1,221.7 147.1,221.0 147.2,220.3 147.3,219.8 147.4,218.9 147.5,217.8 147.6,217.5 147.7,216.3 147.8,215.7 147.9,215.5 148.1,214.6 148.2,213.7 148.3,213.5 148.4,212.8 148.5,211.8 148.6,211.2 148.7,210.5 148.9,209.7 149.1,208.9 149.4,207.9 149.6,207.9 149.9,207.2 150.1,206.1 150.4,205.7 150.7,204.3 151.3,204.5 151.8,204.9 152.4,204.4 152.9,205.4 153.4,203.4 154.1,203.0 154.8,202.1 155.4,203.1 156.1,202.7 156.8,201.3 157.5,201.5 158.0,202.0 158.2,200.6 158.5,200.5 158.8,199.9 159.1,199.8 159.4,197.6 159.7,197.5 160.0,196.2 160.3,196.0 160.6,196.6 160.8,195.3 161.0,194.5 161.2,193.8 161.4,193.1 161.6,193.0 161.8,191.3 162.0,191.4 162.2,190.5 162.4,189.3 162.6,189.5 162.8,188.3 163.0,187.7 163.3,187.6 163.5,186.6 163.7,186.3 163.9,186.1 164.1,184.1 164.3,184.5 164.5,183.1 164.8,181.5 165.0,181.8 165.3,181.0 165.6,181.9 165.9,181.0 166.3,180.1 166.6,178.9 166.9,178.8 167.2,177.3 167.5,177.7 167.8,176.5 168.1,175.9 168.4,175.6 168.7,174.4 169.0,174.9 169.2,173.1 169.5,172.2 169.7,171.2 170.0,170.7 170.3,170.1 170.5,169.7 170.8,168.2 171.0,168.4 171.3,168.7 171.5,167.4 171.8,167.1 172.1,166.0 172.3,165.5 172.6,164.9 172.8,164.7 173.2,164.0 173.7,162.0 174.2,161.4 174.7,161.5 175.2,160.7 175.7,161.5 176.2,160.6 176.7,159.2 177.2,157.3 177.7,157.5 177.9,157.9 178.2,156.7 178.5,156.8 178.8,156.3 179.0,155.5 179.3,154.8 179.6,153.8 179.9,153.6 180.1,152.1 180.4,152.5 180.7,152.9 181.0,151.8 181.2,150.6 181.5,149.7 181.8,149.1 182.1,148.1 182.3,148.1 182.6,146.7 182.9,146.3 183.1,145.1 183.4,145.3 183.7,143.8 183.9,144.1 184.2,143.3 184.5,141.8 184.7,142.0 185.0,140.9 185.3,140.2 185.6,139.3 185.9,138.6 186.2,138.0 186.5,137.2 186.9,137.4 187.2,136.3 187.5,137.2 187.8,135.9 188.2,135.9 188.5,134.2 188.8,134.8 189.1,133.2 189.5,133.1 189.8,132.2 190.1,132.1 190.6,130.3 191.0,129.4 191.5,130.1 191.9,129.1 192.4,127.3 192.8,128.0 193.3,127.0 193.7,126.0 194.2,127.2 194.6,123.5 195.1,124.0 195.5,124.2 195.9,123.5 196.4,124.1 196.8,123.0 197.2,122.6 197.6,121.8 198.0,122.6 198.4,120.7 198.8,120.3 199.2,119.6 199.6,119.8 200.0,118.4 200.4,118.3 200.8,117.6 201.3,116.1 201.7,115.9 202.2,117.0 202.6,114.7 203.1,115.1 203.6,115.9 204.1,112.8 204.6,113.0 205.0,112.7 205.3,111.5 205.7,112.5 206.1,111.9 206.4,109.8 206.8,109.9 207.2,108.5 207.6,110.0 207.9,109.1 208.3,107.5 208.7,106.7 209.0,106.4 209.4,104.8 209.8,104.6 210.2,103.4 210.5,103.3 210.8,102.9 211.2,102.2 211.5,101.9 211.8,100.9 212.1,101.0 212.4,100.0 212.7,99.2 213.0,99.3 213.3,98.0 213.7,96.9 214.0,97.1 214.3,95.7 214.6,95.7 214.9,95.1 215.2,93.2 215.5,92.9 215.9,92.5 216.2,92.5 216.6,92.9 217.1,92.2 217.6,93.0 218.1,91.2 218.5,88.9 219.0,89.4 219.5,87.9 220.0,87.5 220.5,87.2 221.0,87.5 221.7,87.6 222.3,88.1 222.9,87.9 223.6,85.9 224.2,86.0 224.8,86.1 225.4,84.9 226.1,86.5 226.7,86.3 227.3,85.3 227.9,85.6 228.4,84.1 228.8,83.9 229.3,83.4 229.7,81.7 230.1,80.1 230.6,79.9 231.0,79.1 231.4,80.2 231.9,78.7 232.3,77.6 232.7,77.6 233.1,77.9 233.4,76.9 233.8,76.5 234.1,75.1 234.5,73.9 234.8,73.4 235.1,74.0 235.5,72.9 235.8,72.9 236.2,71.2 236.5,71.2 236.9,70.2 237.2,69.3 237.6,69.7 237.9,69.2 238.3,67.8 238.6,68.4 239.0,66.6 239.3,65.3 239.7,66.1 240.0,64.4 240.4,64.0 240.7,63.6 241.1,63.5 241.5,62.9 241.8,62.0 242.2,62.9 242.6,61.5 243.1,61.0 243.5,60.3 243.9,58.8 244.4,57.9 244.8,58.4 245.2,58.0 245.7,57.5 246.1,57.4 246.5,56.1 247.1,55.3 247.7,55.9 248.3,55.6 248.9,54.7 249.5,55.0 250.1,54.1 250.7,53.8 251.4,53.0 252.1,52.4 252.8,52.8 253.5,52.7 254.2,53.7 254.8,53.1 255.4,50.3 256.0,50.4 256.7,50.7 257.3,49.7 257.9,50.3 258.5,50.1 259.1,49.9 259.7,50.6 260.3,50.7 261.0,49.7 261.6,50.3 262.3,48.4 263.0,48.8 263.6,48.4 264.3,47.8 265.0,48.6 265.6,47.6 266.3,47.2 267.0,48.9 267.7,47.4 268.3,46.7 269.0,45.0 269.7,46.2 270.4,47.4 271.1,45.8 271.7,45.5 272.4,46.3 273.1,45.9 273.8,46.4 274.4,46.5 275.1,45.0 275.7,45.1 276.4,45.2 277.1,44.9 277.7,44.8 278.4,43.5 279.0,43.4 279.7,44.3 280.4,42.9 281.0,43.6 281.6,43.3 282.3,41.4 282.9,42.7 283.5,40.7 284.1,42.1 284.8,41.0 285.4,40.9 286.0,41.1 286.7,40.8 287.4,40.0 288.1,40.1 288.8,40.9 289.5,40.0 290.2,39.9 290.9,38.4 291.6,39.1 292.3,38.5 293.0,40.2 293.7,38.9 294.4,38.3 295.1,38.6 295.8,38.8 296.4,39.2 297.1,40.2 297.7,37.5 298.3,38.4 299.0,37.4 299.6,38.6 300.3,38.5 301.0,39.4 301.7,37.1 302.4,37.7 303.1,38.0 303.8,37.4 304.5,37.5 305.2,37.5 305.8,37.3 306.5,37.4 307.2,36.9 307.8,37.5 308.5,36.2 309.2,35.2 309.8,36.4 310.5,36.4 311.2,36.0 311.8,37.2 312.5,35.9 313.2,36.6 313.8,38.0 314.5,36.4 315.2,37.0 315.8,37.3 316.4,36.5 317.1,36.7 317.7,37.3 318.3,37.5 319.0,35.3 319.6,35.9 320.2,34.6 320.9,34.0 321.6,33.6 322.2,34.6 322.9,33.4 323.6,35.0 324.3,34.4 325.0,34.2 325.7,33.5 326.4,32.9 327.1,33.0 327.7,33.9 328.4,34.0 329.1,33.8 329.8,32.6 330.5,33.8 331.1,35.2 331.8,33.1 332.5,32.4 333.2,32.3 333.9,33.6 334.5,31.2 335.2,31.4 335.9,31.6 336.6,31.5 337.2,32.4 337.9,30.9 338.6,30.4 339.3,30.2 339.9,29.8 340.6,32.1 341.3,31.3 342.0,32.4 342.6,31.5 343.2,32.2 343.7,32.7 344.3,32.9 344.9,32.1 345.4,34.1 346.1,34.3 346.8,35.3 347.5,35.5 348.2,34.3 348.7,34.4 349.2,33.0 349.7,33.7 350.3,32.1 350.9,31.5 351.6,30.3 352.2,31.9 352.9,31.7 353.6,29.9 354.3,32.5 355.0,30.8 355.7,32.2 356.3,30.6 357.0,30.7 357.7,29.6 358.4,31.1 359.1,30.3 359.8,29.6 360.5,30.1 361.2,30.2 361.9,29.8 362.6,28.2 363.3,29.4 364.0,29.6 364.7,27.6 365.4,27.5 366.1,27.2 366.8,28.3 367.5,30.7 368.2,31.1 368.9,30.3 369.6,32.5 370.3,30.8 371.0,31.1 371.7,29.9 372.4,28.9 373.1,30.0 373.8,29.8 374.5,30.9 375.2,30.6 375.9,30.1 376.6,31.0 377.3,29.6 378.0,30.8 378.7,30.9 379.4,30.9 380.1,32.0 380.8,32.0 381.5,30.7 382.2,30.9 382.9,30.1 383.6,32.0 384.3,31.0 385.0,32.0 385.6,32.7 386.3,31.0 386.9,32.2 387.6,30.2 388.2,31.1 388.8,29.8 389.5,28.3 390.1,28.8 390.8,29.9 391.4,28.8 392.1,27.9 392.7,29.3 393.4,29.3 394.1,27.8 394.8,28.7 395.5,27.6 396.2,27.4 396.9,28.9 397.5,29.5 398.2,30.6 398.9,30.0 399.6,29.7 400.3,30.2 401.0,28.7 401.7,29.6 402.4,30.3 403.0,30.3 403.7,30.0 404.4,29.7 405.1,30.9 405.7,30.9 406.3,30.8 406.8,30.6 407.4,29.2 408.0,28.6 408.6,26.9 409.2,27.3 409.7,26.3 410.3,28.4 410.8,27.8 411.4,28.4 411.9,28.8 412.5,28.9 413.0,29.6 413.5,30.3 414.1,31.3 414.6,30.8 415.2,32.0 415.9,33.3 416.6,30.7 417.3,31.8 418.0,31.5 418.7,32.9 419.4,33.3 420.0,32.5 420.7,32.8 421.4,32.8 422.0,34.1 422.7,33.3 423.3,33.8 424.0,35.2 424.6,33.6 425.3,33.8 426.0,34.9 426.6,35.4 427.3,35.5 428.0,36.5 428.7,34.1 429.4,34.9 430.1,35.5 430.8,33.8 431.5,35.6 432.1,37.0 432.8,36.3 433.5,34.3 434.1,36.8 434.8,37.0 435.4,36.6 436.0,36.7 436.7,37.4 437.3,37.5 437.9,36.8 438.6,36.8 439.3,38.1 439.9,38.8 440.6,37.8 441.2,37.8 441.9,38.2 442.5,39.3 443.2,37.8 443.8,39.0 444.5,39.9 445.1,39.1 445.8,39.5 446.5,39.2 447.2,39.7 447.9,39.8 448.5,41.8 449.2,41.3 449.9,41.9 450.6,40.0 451.3,40.5 451.9,41.0 452.6,41.7 453.3,43.3 454.0,43.7 454.7,43.6 455.4,43.2 456.1,41.7 456.8,43.0 457.5,43.5 458.2,43.8 458.9,43.3 459.6,43.5 460.3,43.5 460.9,43.6 461.6,43.9 462.3,43.2 463.0,43.2 463.7,43.7 464.4,43.1 465.0,43.4 465.7,43.8 466.4,43.2 467.1,44.3 467.8,44.9 468.4,44.0 469.1,44.0 469.8,45.6 470.5,44.6 471.2,44.9 471.9,44.9 472.5,45.3 473.2,45.3 473.9,46.0 474.6,47.7 475.3,46.7 476.0,46.5 476.7,48.0 477.4,47.2 478.1,47.6 478.8,47.3 479.4,47.3 480.1,46.1 480.8,46.1 481.5,47.2 482.2,48.1 482.9,47.8 483.6,47.5 484.3,47.9 485.0,47.2 485.7,47.2 486.4,46.9 487.1,48.4 487.8,48.1 488.5,47.8 489.2,48.4 489.9,49.6 490.6,48.9 491.3,48.7 492.0,49.0 492.6,48.9 493.3,47.8 494.0,48.7 494.7,49.3 495.4,48.2 496.1,49.8 496.8,50.3 497.5,49.2 498.2,50.0 498.9,50.2 499.5,49.7 500.2,49.6 500.9,51.7 501.6,50.7 502.3,52.2 503.0,51.9 503.7,51.4 504.3,52.1 505.0,53.4 505.7,52.7 506.4,52.7 507.1,52.7 507.8,51.7 508.5,51.8 509.2,51.9" stroke="#21b72c" stroke-width="2.5"/>
<polyline points="83.8,348.0 87.6,341.6 92.9,334.0 98.2,331.5 105.2,328.0 112.3,324.5 119.3,319.3 126.3,311.0 130.8,302.0 135.2,288.0 139.6,272.0 144.0,256.0 147.5,244.0 150.2,230.4 151.5,221.0 153.5,208.0 155.0,198.0 156.5,188.0 160.2,170.2 163.7,154.0 166.9,144.0 169.1,136.0 172.6,122.1 178.4,108.1 184.2,98.8 190.0,89.5 195.8,80.2 201.6,72.1 205.8,67.7 211.6,60.7 217.4,56.0 223.3,51.4 230.2,47.9 237.2,45.1 244.2,43.3 251.2,42.1 260.5,40.9 270.4,39.8 280.8,39.4 291.0,39.8 301.5,40.8 312.0,42.5 322.3,44.3 332.7,46.3 343.0,47.8 352.5,48.6 365.0,48.8 377.5,48.0 390.0,47.5 402.5,47.5 415.0,49.5 427.5,50.5 440.0,51.2 450.0,50.0 460.0,47.5 470.0,46.2 480.0,43.8 490.0,41.2 500.0,40.0 509.0,38.8" stroke="#0a0a0a" stroke-width="2.2" stroke-dasharray="6.8 4"/>
</g>
<path d="M71.3 349.0v-3.3M71.3 5.0v3.3M95.6 349.0v-3.3M95.6 5.0v3.3M119.9 349.0v-3.3M119.9 5.0v3.3M144.2 349.0v-5M144.2 5.0v5M168.5 349.0v-3.3M168.5 5.0v3.3M192.8 349.0v-3.3M192.8 5.0v3.3M217.1 349.0v-3.3M217.1 5.0v3.3M241.4 349.0v-3.3M241.4 5.0v3.3M265.7 349.0v-5M265.7 5.0v5M290.0 349.0v-3.3M290.0 5.0v3.3M314.3 349.0v-3.3M314.3 5.0v3.3M338.6 349.0v-3.3M338.6 5.0v3.3M362.9 349.0v-3.3M362.9 5.0v3.3M387.2 349.0v-5M387.2 5.0v5M411.5 349.0v-3.3M411.5 5.0v3.3M435.8 349.0v-3.3M435.8 5.0v3.3M460.1 349.0v-3.3M460.1 5.0v3.3M484.4 349.0v-3.3M484.4 5.0v3.3M508.7 349.0v-5M508.7 5.0v5M58.7 349.0h5.5M509.3 349.0h-5.5M58.7 338.4h3.3M509.3 338.4h-3.3M58.7 327.8h3.3M509.3 327.8h-3.3M58.7 317.3h3.3M509.3 317.3h-3.3M58.7 306.7h3.3M509.3 306.7h-3.3M58.7 296.1h5.5M509.3 296.1h-5.5M58.7 285.5h3.3M509.3 285.5h-3.3M58.7 274.9h3.3M509.3 274.9h-3.3M58.7 264.3h3.3M509.3 264.3h-3.3M58.7 253.8h3.3M509.3 253.8h-3.3M58.7 243.2h5.5M509.3 243.2h-5.5M58.7 232.6h3.3M509.3 232.6h-3.3M58.7 222.0h3.3M509.3 222.0h-3.3M58.7 211.4h3.3M509.3 211.4h-3.3M58.7 200.8h3.3M509.3 200.8h-3.3M58.7 190.3h5.5M509.3 190.3h-5.5M58.7 179.7h3.3M509.3 179.7h-3.3M58.7 169.1h3.3M509.3 169.1h-3.3M58.7 158.5h3.3M509.3 158.5h-3.3M58.7 147.9h3.3M509.3 147.9h-3.3M58.7 137.3h5.5M509.3 137.3h-5.5M58.7 126.8h3.3M509.3 126.8h-3.3M58.7 116.2h3.3M509.3 116.2h-3.3M58.7 105.6h3.3M509.3 105.6h-3.3M58.7 95.0h3.3M509.3 95.0h-3.3M58.7 84.4h5.5M509.3 84.4h-5.5M58.7 73.8h3.3M509.3 73.8h-3.3M58.7 63.3h3.3M509.3 63.3h-3.3M58.7 52.7h3.3M509.3 52.7h-3.3M58.7 42.1h3.3M509.3 42.1h-3.3M58.7 31.5h5.5M509.3 31.5h-5.5M58.7 20.9h3.3M509.3 20.9h-3.3M58.7 10.3h3.3M509.3 10.3h-3.3" stroke="#1a1a1a" stroke-width="1.1" fill="none"/>
<rect x="58.7" y="5.0" width="450.6" height="344.0" fill="none" stroke="#1a1a1a" stroke-width="1.3"/>
<text class="tk" transform="translate(144.2,377.3) scale(1.04,1)" text-anchor="middle">0.5</text>
<text class="tk" transform="translate(265.7,377.3) scale(1.04,1)" text-anchor="middle">1</text>
<text class="tk" transform="translate(387.2,377.3) scale(1.04,1)" text-anchor="middle">1.5</text>
<text class="tk" transform="translate(508.7,377.3) scale(1.04,1)" text-anchor="middle">2</text>
<text class="tk" transform="translate(52.1,357.0) scale(1.04,1)" text-anchor="end">0</text>
<text class="tk" transform="translate(52.1,304.1) scale(1.04,1)" text-anchor="end">0.5</text>
<text class="tk" transform="translate(52.1,251.2) scale(1.04,1)" text-anchor="end">1</text>
<text class="tk" transform="translate(52.1,198.3) scale(1.04,1)" text-anchor="end">1.5</text>
<text class="tk" transform="translate(52.1,145.3) scale(1.04,1)" text-anchor="end">2</text>
<text class="tk" transform="translate(52.1,92.4) scale(1.04,1)" text-anchor="end">2.5</text>
<text class="tk" transform="translate(52.1,39.5) scale(1.04,1)" text-anchor="end">3</text>
<text class="lb" style="font-size:21.9px" x="241" y="403.1">Time (<tspan font-style="italic" dx="0.9">μ</tspan><tspan dx="1.1">s)</tspan></text>
<text class="lb" transform="translate(18.2,173.2) rotate(-90)" text-anchor="middle">Normal Stress (GPa)</text>
<rect x="233.6" y="205.6" width="264.5" height="131.2" fill="#ffffff" stroke="#1c1c1c" stroke-width="1.4"/>
<line x1="238.2" y1="220.3" x2="266" y2="220.3" stroke="#76bbdb" stroke-width="4.1"/>
<text class="lg" x="270" y="227.7">HTPB (Shot4H)</text>
<line x1="238.2" y1="246.0" x2="266" y2="246.0" stroke="#b67af3" stroke-width="4.1"/>
<text class="lg" x="270" y="253.3">Sucrose (Shot3S)</text>
<line x1="238.2" y1="271.0" x2="266" y2="271.0" stroke="#da181d" stroke-width="2.15"/>
<text class="lg" x="270" y="278.9">Composite (Shot1)</text>
<line x1="238.2" y1="297.0" x2="266" y2="297.0" stroke="#21b72c" stroke-width="2.25"/>
<text class="lg" x="270" y="304.6">Composite (Shot2)</text>
<line x1="238.2" y1="323.0" x2="266" y2="323.0" stroke="#0a0a0a" stroke-width="2.4" stroke-dasharray="8.9 8.9"/>
<text class="lg" x="270" y="330.2">Granular Sucrose (Shot5)</text>
</svg></body></html>
